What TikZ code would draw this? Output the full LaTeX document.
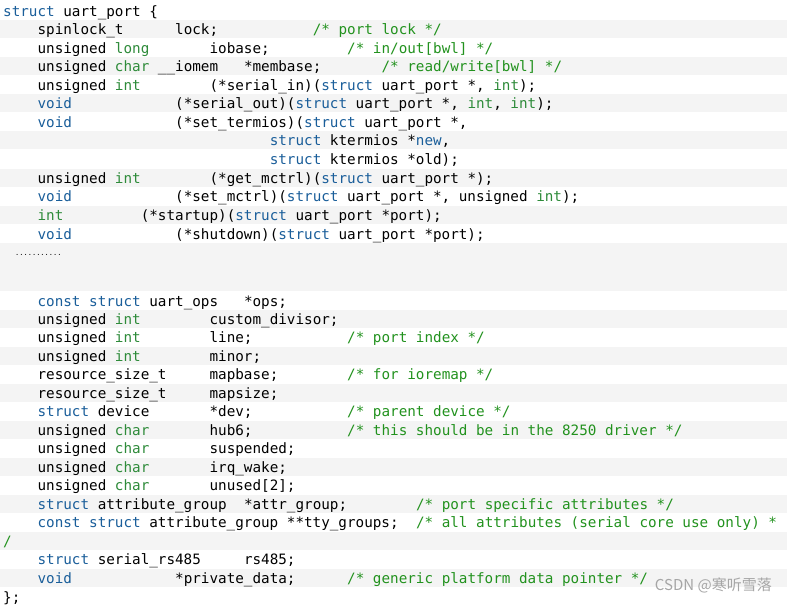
\documentclass[tikz,border=0pt]{standalone}
\usepackage{fontspec}
\setmonofont{DejaVu Sans Mono}
\newfontfamily\cjk{Noto Sans CJK SC}
\definecolor{kw}{HTML}{1A5E9A}
\definecolor{ty}{HTML}{2E8B3A}
\definecolor{cm}{HTML}{22921E}
\definecolor{stripe}{HTML}{F4F4F4}
\newcommand\K[1]{{\color{kw}#1}}
\newcommand\T[1]{{\color{ty}#1}}
\newcommand\Cm[1]{{\color{cm}#1}}
\newcommand\Lr[3]{\node[code] at ({3+#2*8.6},{-#1-3}) {#3};}
\begin{document}
\begin{tikzpicture}[x=1pt,y=1pt,
  code/.style={anchor=mid west,inner sep=0pt,font=\ttfamily\fontsize{14.28}{16}\selectfont,text=black}]
\useasboundingbox (0,0) rectangle (787,-606);
\fill[white] (0,0) rectangle (787,-606);
% stripes
\foreach \y in {29,66,103,140,178,215,319,356,393,430,467,504,541,578}
  \fill[stripe] (0,{-\y+9.25}) rectangle (787,{-\y-9.25});
\fill[stripe] (0,-243) rectangle (787,-291);
% upper block
\Lr{11}{0}{\K{struct} uart\_port \{}
\Lr{29}{4}{spinlock\_t}\Lr{29}{20}{lock;}\Lr{29}{36}{\Cm{/* port lock */}}
\Lr{48}{4}{unsigned \T{long}}\Lr{48}{24}{iobase;}\Lr{48}{40}{\Cm{/* in/out[bwl] */}}
\Lr{66}{4}{unsigned \T{char} \_\_iomem}\Lr{66}{28}{*membase;}\Lr{66}{44}{\Cm{/* read/write[bwl] */}}
\Lr{85}{4}{unsigned \T{int}}\Lr{85}{24}{(*serial\_in)(\K{struct} uart\_port *, \T{int});}
\Lr{103}{4}{\K{void}}\Lr{103}{20}{(*serial\_out)(\K{struct} uart\_port *, \T{int}, \T{int});}
\Lr{122}{4}{\K{void}}\Lr{122}{20}{(*set\_termios)(\K{struct} uart\_port *,}
\Lr{140}{31}{\K{struct} ktermios *\K{new},}
\Lr{159}{31}{\K{struct} ktermios *old);}
\Lr{178}{4}{unsigned \T{int}}\Lr{178}{24}{(*get\_mctrl)(\K{struct} uart\_port *);}
\Lr{196}{4}{\K{void}}\Lr{196}{20}{(*set\_mctrl)(\K{struct} uart\_port *, unsigned \T{int});}
\Lr{215}{4}{\T{int}}\Lr{215}{16}{(*startup)(\K{struct} uart\_port *port);}
\Lr{234}{4}{\K{void}}\Lr{234}{20}{(*shutdown)(\K{struct} uart\_port *port);}
\node[code,font=\ttfamily\fontsize{7}{8}\selectfont] at (15,-253) {...........};
% lower block
\Lr{301}{4}{\K{const} \K{struct} uart\_ops}\Lr{301}{28}{*ops;}
\Lr{319}{4}{unsigned \T{int}}\Lr{319}{24}{custom\_divisor;}
\Lr{337}{4}{unsigned \T{int}}\Lr{337}{24}{line;}\Lr{337}{40}{\Cm{/* port index */}}
\Lr{356}{4}{unsigned \T{int}}\Lr{356}{24}{minor;}
\Lr{374}{4}{resource\_size\_t}\Lr{374}{24}{mapbase;}\Lr{374}{40}{\Cm{/* for ioremap */}}
\Lr{393}{4}{resource\_size\_t}\Lr{393}{24}{mapsize;}
\Lr{411}{4}{\K{struct} device}\Lr{411}{24}{*dev;}\Lr{411}{40}{\Cm{/* parent device */}}
\Lr{430}{4}{unsigned \T{char}}\Lr{430}{24}{hub6;}\Lr{430}{40}{\Cm{/* this should be in the 8250 driver */}}
\Lr{448}{4}{unsigned \T{char}}\Lr{448}{24}{suspended;}
\Lr{467}{4}{unsigned \T{char}}\Lr{467}{24}{irq\_wake;}
\Lr{485}{4}{unsigned \T{char}}\Lr{485}{24}{unused[2];}
\Lr{504}{4}{\K{struct} attribute\_group}\Lr{504}{28}{*attr\_group;}\Lr{504}{48}{\Cm{/* port specific attributes */}}
\Lr{522}{4}{\K{const} \K{struct} attribute\_group **tty\_groups;}\Lr{522}{48}{\Cm{/* all attributes (serial core use only) *}}
\Lr{541}{0}{\Cm{/}}
\Lr{559}{4}{\K{struct} serial\_rs485}\Lr{559}{28}{rs485;}
\Lr{578}{4}{\K{void}}\Lr{578}{20}{*private\_data;}\Lr{578}{40}{\Cm{/* generic platform data pointer */}}
\Lr{597}{0}{\};}
\node[anchor=mid east,inner sep=0pt,text=gray!70,font=\cjk\fontsize{15}{17}\selectfont] (wm) at (772,-588) {CSDN @寒听雪落};
\end{tikzpicture}
\end{document}
